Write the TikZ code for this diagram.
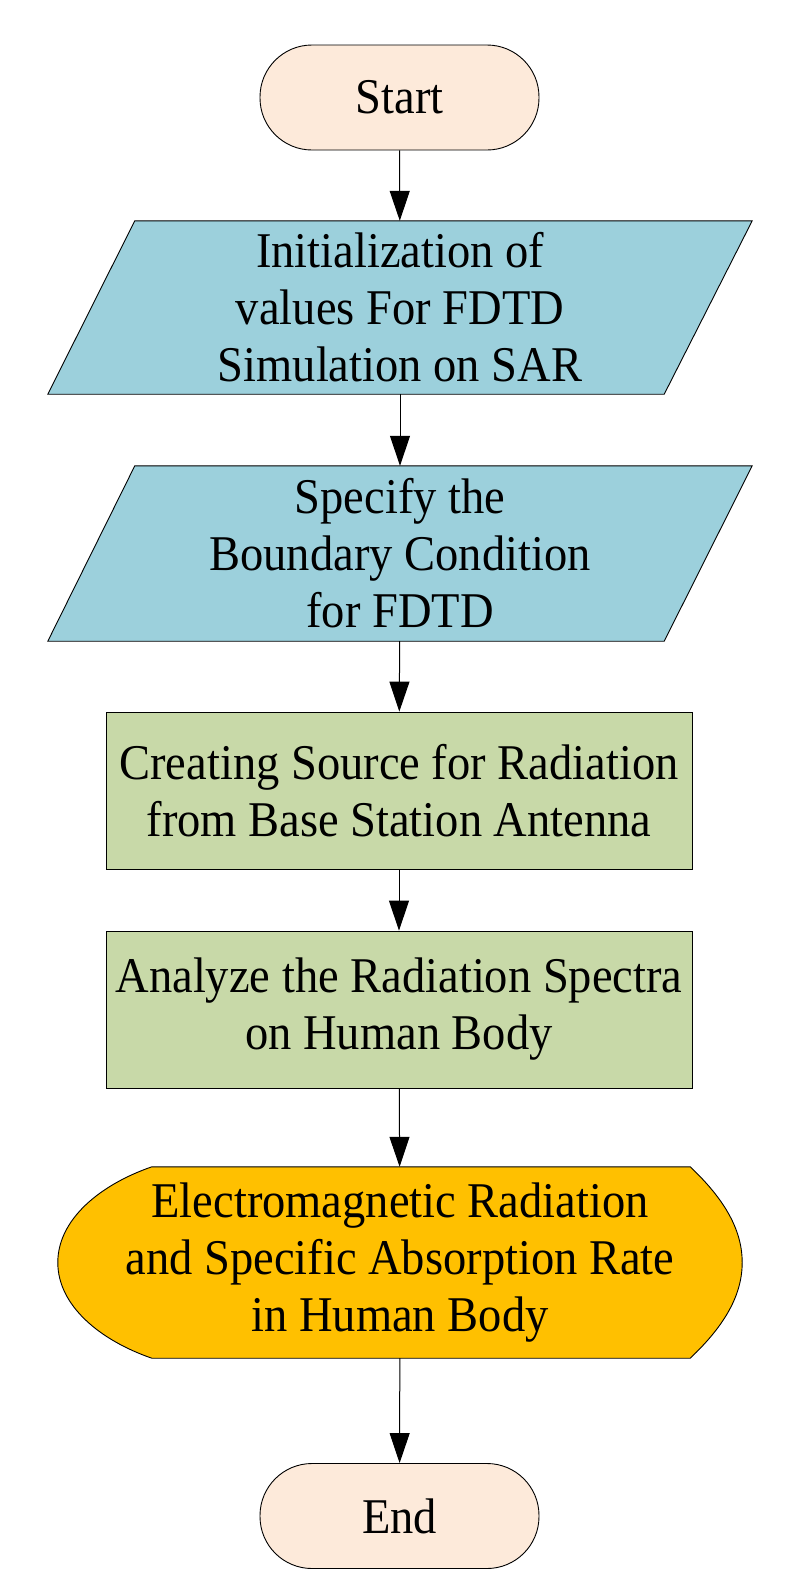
\documentclass[tikz,border=0pt]{standalone}
\usepackage{fontspec}
\setmainfont{Liberation Serif}[FakeStretch=0.93]
\usetikzlibrary{arrows.meta,calc}
\pgfdeclarelayer{background}
\pgfsetlayers{background,main}
\definecolor{termfill}{HTML}{FDEADA}
\definecolor{parafill}{HTML}{9CD0DC}
\definecolor{rectfill}{HTML}{C8D9A8}
\definecolor{dispfill}{HTML}{FFC000}
\tikzset{
  txt/.style={font=\fontsize{50}{57}\selectfont, align=center, inner sep=0pt},
  term/.style={txt, draw=black, line width=0.9pt, fill=termfill, rounded corners=52pt, minimum width=279pt, minimum height=105pt},
  paranode/.style={txt, minimum width=704pt},
  procbox/.style={txt, draw=black, line width=0.9pt, fill=rectfill, minimum width=586pt, minimum height=157pt},
  dispnode/.style={txt, minimum width=684pt, minimum height=191pt},
  outline/.style={draw=black, line width=0.9pt},
  flow/.style={line width=1pt, -{Triangle[length=30pt,width=20pt]}}
}
\begin{document}
\begin{tikzpicture}[x=1pt,y=1pt]
\useasboundingbox (0,0) rectangle (810,-1591);
\node[term] (start) at (399.5,-97.5) {Start};
\node[paranode, minimum height=173pt] (p1) at (400,-307.5) {Initialization of\\values For FDTD\\Simulation on SAR};
\node[paranode, minimum height=175pt] (p2) at (400,-553.5) {Specify the\\Boundary Condition\\for FDTD};
\node[procbox] (r1) at (399,-790.5) {Creating Source for Radiation\\from Base Station Antenna};
\node[procbox] (r2) at (399,-1009.5) {Analyze the Radiation Spectra\\on Human Body};
\node[dispnode] (d) at (400,-1262.5) {Electromagnetic Radiation\\and Specific Absorption Rate\\in Human Body};
\node[term] (end) at (399.5,-1516) {End};
\begin{pgfonlayer}{background}
\draw[outline, fill=parafill] ($(p1.north west)+(87,0)$) -- (p1.north east) -- ($(p1.south east)+(-88,0)$) -- (p1.south west) -- cycle;
\draw[outline, fill=parafill] ($(p2.north west)+(87,0)$) -- (p2.north east) -- ($(p2.south east)+(-88,0)$) -- (p2.south west) -- cycle;
\draw[outline, fill=dispfill] ($(d.north west)+(94,0)$) -- ($(d.north east)+(-52,0)$)
  .. controls ($(d.north east)+(-17,-33)$) and ($(d.east)+(0,32)$) .. (d.east)
  .. controls ($(d.east)+(0,-32)$) and ($(d.south east)+(-17,33)$) .. ($(d.south east)+(-52,0)$)
  -- ($(d.south west)+(94,0)$)
  .. controls ($(d.south west)+(42,18)$) and ($(d.west)+(0,-43)$) .. (d.west)
  .. controls ($(d.west)+(0,43)$) and ($(d.north west)+(42,-18)$) .. ($(d.north west)+(94,0)$) -- cycle;
\end{pgfonlayer}
\draw[flow] (start) -- (p1);
\draw[flow] (p1) -- (p2);
\draw[flow] (p2) -- (r1);
\draw[flow] (r1) -- (r2);
\draw[flow] (r2) -- (d);
\draw[flow] (d) -- (end);
\end{tikzpicture}
\end{document}
